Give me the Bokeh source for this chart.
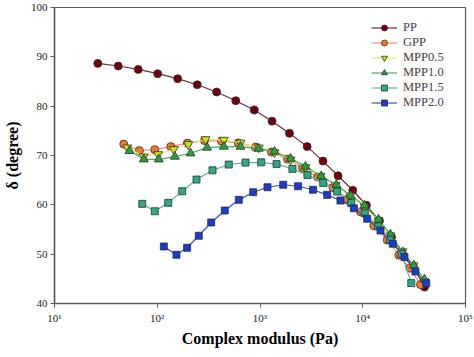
from bokeh.plotting import figure
from bokeh.models import FixedTicker, Legend, LegendItem
from bokeh.embed import file_html
from bokeh.resources import INLINE

# ---- data (complex modulus in Pa, phase angle in degrees) ----
pp_x = [26.4, 41.7, 65.3, 101, 158, 245, 378, 581, 879, 1309, 1936, 2877,
        4102, 5741, 8000, 10860, 14550, 19050, 24210, 30970, 39900]
pp_y = [88.67, 88.14, 87.45, 86.58, 85.57, 84.35, 82.87, 81.11, 79.23, 76.96, 74.49,
        71.80, 68.87, 65.89, 62.96, 59.92, 56.76, 53.44, 50.20, 47.51, 43.32]

gpp_x = [47.2, 67.1, 94.6, 135.5, 196.8, 288.4, 421.7, 613.8, 903.7, 1294, 1854,
         2594, 3631, 5129, 7063, 9506, 12820, 17300, 22440, 28710, 36480]
gpp_y = [72.31, 70.99, 71.19, 71.80, 72.51, 73.02, 72.91, 72.55, 71.70, 70.69, 69.27,
         67.49, 65.63, 63.50, 61.13, 58.58, 55.77, 52.87, 49.80, 47.17, 43.83]

mpp05_x = [51.05, 73.96, 102.1, 144.9, 200.0, 295.1, 444.6, 645.7, 972.7, 1384, 1982,
           2773, 3882, 5433, 7603, 10400, 14220, 18620, 24380, 31190, 39900]
mpp05_y = [71.60, 69.78, 70.24, 71.26, 72.27, 73.28, 73.16, 72.61, 71.60, 70.65, 69.17,
           67.61, 65.83, 64.01, 61.88, 59.66, 56.82, 53.79, 50.55, 47.71, 44.50]

mpp10_x = [53.70, 73.96, 103.5, 148.3, 210.9, 306.2, 444.6, 645.7, 972.7, 1384, 1982,
           2773, 3945, 5521, 7603, 10400, 14220, 18620, 24550, 31410, 39900]
mpp10_y = [70.93, 69.23, 69.23, 69.78, 70.45, 71.60, 71.80, 71.80, 71.40, 70.79, 69.37,
           67.75, 65.79, 64.05, 61.88, 59.86, 57.02, 53.99, 50.41, 47.71, 44.90]

mpp15_x = [71.45, 94.62, 127.9, 175.0, 241.0, 345.1, 496.6, 722.8, 1028, 1449, 2070,
           2897, 4121, 5636, 7727, 10470, 14030, 18320, 23820, 29650]
mpp15_y = [60.20, 58.70, 60.40, 62.75, 65.12, 67.00, 68.16, 68.56, 68.62, 68.26, 67.29,
           66.03, 64.45, 62.69, 60.36, 58.30, 55.61, 52.91, 50.08, 44.13]

mpp20_x = [115.9, 153.8, 195.4, 253.5, 335.0, 454.0, 622.3, 859.0, 1183, 1683, 2344,
           3281, 4508, 6067, 8185, 11040, 14890, 19590, 25470, 32580, 41500]
mpp20_y = [51.56, 49.88, 51.30, 53.73, 56.42, 58.85, 61.01, 62.55, 63.56, 64.07, 63.77,
           63.06, 62.02, 60.87, 59.31, 57.17, 54.80, 52.11, 49.39, 46.50, 44.13]

labels = ["PP", "GPP", "MPP0.5", "MPP1.0", "MPP1.5", "MPP2.0"]
x_ticks = [10, 100, 1000, 10000, 100000]
x_tick_labels = ["10\u00b9", "10\u00b2", "10\u00b3", "10\u2074", "10\u2075"]
y_ticks = [40, 50, 60, 70, 80, 90, 100]

FONT = "Liberation Serif"
AXIS_COL = "#5a5a5a"

p = figure(width=474, height=357, x_axis_type="log", x_range=(10, 1e5), y_range=(40, 100),
           output_backend="svg", toolbar_location=None,
           min_border_left=54, min_border_right=9, min_border_top=7, min_border_bottom=54)

p.xgrid.visible = False
p.ygrid.visible = False
p.outline_line_color = AXIS_COL
p.outline_line_width = 1.2
p.background_fill_color = "white"
p.border_fill_color = "white"

for ax in (p.xaxis[0], p.yaxis[0]):
    ax.axis_line_color = AXIS_COL
    ax.axis_line_width = 1.5
    ax.major_tick_line_color = AXIS_COL
    ax.major_tick_in = 0
    ax.major_tick_out = 4
    ax.minor_tick_line_color = None
    ax.major_label_text_font = FONT
    ax.major_label_text_font_size = "11px"
    ax.major_label_text_color = "#222222"
    ax.axis_label_text_font = FONT
    ax.axis_label_text_font_size = "16px"
    ax.axis_label_text_font_style = "bold"
    ax.axis_label_text_color = "black"

p.xaxis[0].ticker = FixedTicker(ticks=x_ticks, minor_ticks=[])
p.xaxis[0].major_label_overrides = {t: l for t, l in zip(x_ticks, x_tick_labels)}
p.xaxis[0].major_label_standoff = 4
p.xaxis[0].axis_label = "Complex modulus (Pa)"
p.xaxis[0].axis_label_standoff = 3

p.yaxis[0].ticker = FixedTicker(ticks=y_ticks, minor_ticks=[])
p.yaxis[0].major_label_standoff = 3
p.yaxis[0].axis_label = "\u03b4 (degree)"
p.yaxis[0].axis_label_standoff = 7

series = [
    (pp_x, pp_y, "circle", "#7a2a35", "#6e0010", 8),
    (gpp_x, gpp_y, "circle", "#f59070", "#f07a28", 8),
    (mpp05_x, mpp05_y, "inverted_triangle", "#e6e87a", "#d2e21a", 9),
    (mpp10_x, mpp10_y, "triangle", "#4cae55", "#2ea03a", 9),
    (mpp15_x, mpp15_y, "square", "#62b4a2", "#2fa886", 7),
    (mpp20_x, mpp20_y, "square", "#3a55a8", "#1a3cc8", 7),
]

items = []
for (xs, ys, marker, lc, fc, sz), lab in zip(series, labels):
    r1 = p.line(xs, ys, line_color=lc, line_width=1.2)
    r2 = p.scatter(xs, ys, marker=marker, size=sz, fill_color=fc,
                   line_color="#303030", line_width=0.8)
    items.append(LegendItem(label=lab, renderers=[r1, r2]))

legend = Legend(items=items, location=(317, 193), margin=0, padding=4, spacing=0,
                glyph_width=26, glyph_height=15, label_height=15, label_standoff=6,
                label_text_font=FONT, label_text_font_size="12.5px",
                border_line_color=None, background_fill_alpha=0)
p.add_layout(legend)

open("out.html", "w").write(file_html(p, INLINE))
